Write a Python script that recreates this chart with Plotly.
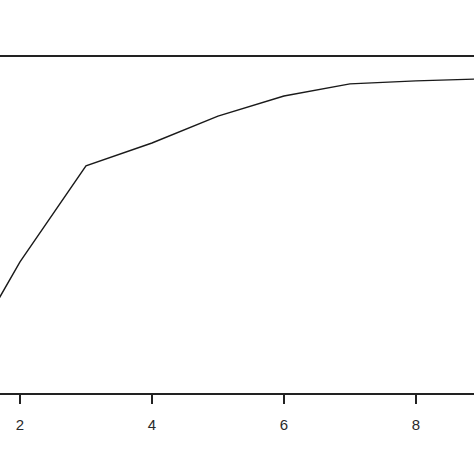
import plotly.graph_objects as go

# number of components / clusters
k_values = [1, 2, 3, 4, 5, 6, 7, 8, 9, 10]
# explained share (arbitrary units 0-100)
explained = [4.8, 39.0, 67.6, 74.4, 82.4, 88.4, 92.0, 92.9, 93.5, 95.0]

x_ticks = [2, 4, 6, 8]

fig = go.Figure()

fig.add_trace(go.Scatter(
    x=k_values,
    y=explained,
    mode="lines",
    line=dict(color="#1a1a1a", width=1.4),
    showlegend=False,
    hoverinfo="skip",
))

fig.update_layout(
    width=474,
    height=474,
    margin=dict(l=0, r=0, t=57, b=81),
    paper_bgcolor="white",
    plot_bgcolor="white",
    xaxis=dict(
        range=[1.697, 8.88],
        tickvals=x_ticks,
        ticktext=[str(v) for v in x_ticks],
        ticks="outside",
        ticklen=9,
        tickwidth=1.5,
        tickcolor="#222222",
        ticklabelstandoff=8,
        showline=True,
        linecolor="#222222",
        linewidth=1.5,
        mirror=True,
        showgrid=False,
        zeroline=False,
        tickfont=dict(family="Liberation Sans, Arial, sans-serif", size=15, color="#2a2a2a"),
    ),
    yaxis=dict(
        range=[0, 100],
        showline=False,
        showticklabels=False,
        ticks="",
        showgrid=False,
        zeroline=False,
    ),
)

# drop the page's default body margin so the plot sits flush with the window
fig.write_html("out.html",
               config={"displayModeBar": False},
               post_script="document.body.style.margin='0px';")
